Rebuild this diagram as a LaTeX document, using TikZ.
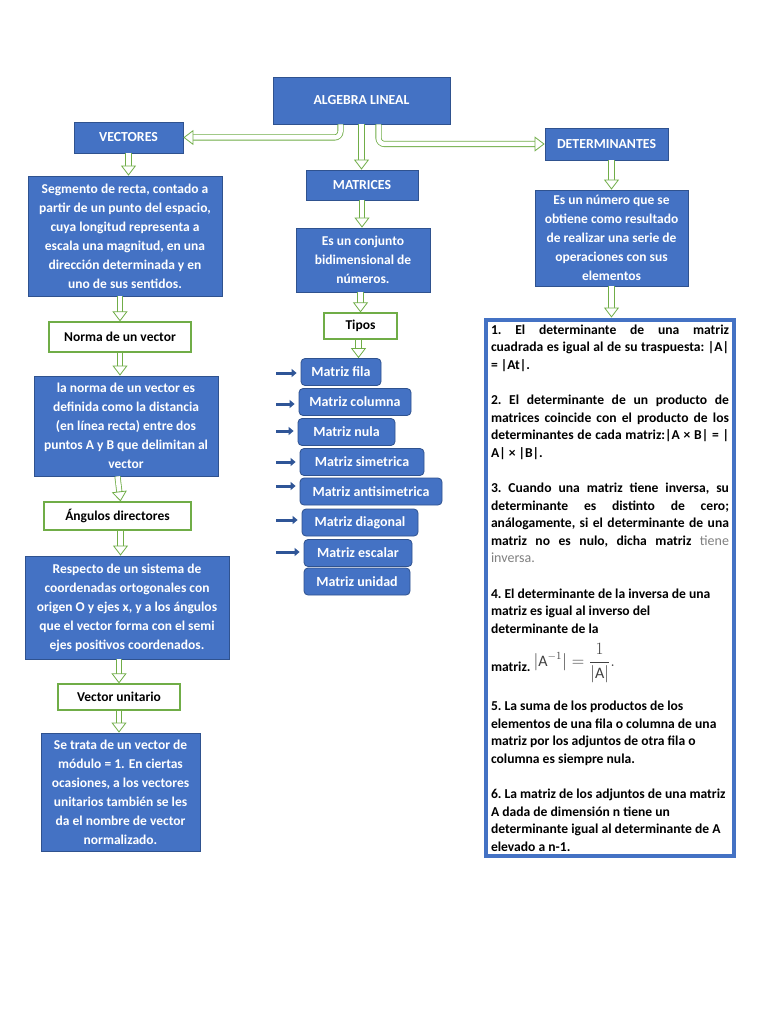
\documentclass[tikz,border=0pt]{standalone}
\usepackage{amsmath}
\usepackage{fontspec}
\setmainfont{Carlito}
\usepackage{xcolor}
\usetikzlibrary{arrows.meta,positioning}
\definecolor{boxblue}{HTML}{4472C4}
\definecolor{edgeblue}{HTML}{2F528F}
\definecolor{linkgreen}{HTML}{70AD47}
\definecolor{pointblue}{HTML}{2F5597}
\tikzset{
  bluebox/.style={draw=edgeblue, line width=0.8pt, fill=boxblue, text=white, align=center,
    inner sep=2pt, font=\fontsize{13.5}{19}\selectfont\bfseries},
  headbox/.style={bluebox, font=\fontsize{13.8}{15}\selectfont\bfseries},
  greenbox/.style={draw=linkgreen, line width=1.2pt, fill=white, inner sep=2pt,
    font=\fontsize{13.5}{15}\selectfont\bfseries},
  typebox/.style={bluebox, rounded corners=4pt, font=\fontsize{14}{16}\selectfont\bfseries},
  hollow/.style={draw=linkgreen, line width=0.8pt, double=white, double distance=4.5pt,
    -{Triangle[open, fill=white, length=10pt, width=15pt, line width=0.8pt]}},
  pointer/.style={draw=pointblue, line width=3pt, -{Triangle[length=5pt, width=8pt]}, shorten >=4pt}
}
\begin{document}
\begin{tikzpicture}[x=1pt, y=-1pt]
\useasboundingbox[fill=white] (0,0) rectangle (768,1024);
% top level
\node[headbox, minimum width=177pt, minimum height=47pt] (alg) at (361.5,100.5) {ALGEBRA LINEAL};
\node[headbox, minimum width=109pt, minimum height=31pt] (vec) at (128.5,137.5) {VECTORES};
\node[headbox, minimum width=112pt, minimum height=30pt] (mat) at (362,185) {MATRICES};
\node[headbox, minimum width=123pt, minimum height=32pt] (det) at (606.5,144) {DETERMINANTES};
% vectores column
\node[bluebox, minimum width=194pt, minimum height=120pt] (vecdef) at (125,236)
  {Segmento de recta, contado a\\ partir de un punto del espacio,\\ cuya longitud representa a\\
   escala una magnitud, en una\\ dirección determinada y en\\ uno de sus sentidos.};
\node[greenbox, minimum width=142pt, minimum height=30pt] (norma) at (120,337) {Norma de un vector};
\node[bluebox, minimum width=184pt, minimum height=100pt] (normadef) at (126,426)
  {la norma de un vector es\\ definida como la distancia\\ (en línea recta) entre dos\\
   puntos A y B que delimitan al\\ vector};
\node[greenbox, minimum width=147pt, minimum height=28pt] (ang) at (117.5,516) {Ángulos directores};
\node[bluebox, minimum width=204pt, minimum height=103pt] (angdef) at (127,607.5)
  {Respecto de un sistema de\\ coordenadas ortogonales con\\ origen O y ejes x, y a los ángulos\\
   que el vector forma con el semi\\ ejes positivos coordenados.};
\node[greenbox, minimum width=122pt, minimum height=26pt] (uni) at (119,697) {Vector unitario};
\node[bluebox, minimum width=159pt, minimum height=118pt] (unidef) at (120.5,792)
  {Se trata de un vector de\\ módulo = 1. En ciertas\\ ocasiones, a los vectores\\
   unitarios también se les\\ da el nombre de vector\\ normalizado.};
% matrices column
\node[bluebox, minimum width=134pt, minimum height=64pt] (matdef) at (363,260)
  {Es un conjunto\\ bidimensional de\\ números.};
\node[greenbox, minimum width=73pt, minimum height=26pt] (tipos) at (360.5,326) {Tipos};
\foreach \n/\lab/\x/\y/\w in {fila/Matriz fila/341/372/80, columna/Matriz columna/355/402/112,
    nula/Matriz nula/346.5/432/97, simetrica/Matriz simetrica/362/462/124,
    anti/Matriz antisimetrica/371/491.5/142, diagonal/Matriz diagonal/360/522.5/116,
    escalar/Matriz escalar/358/553/108, unidad/Matriz unidad/357/581.5/106} {
  \node[typebox, minimum width=\w pt, minimum height=27pt] (m-\n) at (\x,\y) {\lab};
}
\foreach \n/\y in {fila/373, columna/404, nula/431, simetrica/462, anti/486, diagonal/520, escalar/552} {
  \coordinate (p-\n) at (276,\y);
  \draw[pointer] (p-\n) -- (p-\n -| m-\n.west);
}
% determinantes column
\node[bluebox, minimum width=153pt, minimum height=96pt] (detdef) at (611.5,238)
  {Es un número que se\\ obtiene como resultado\\ de realizar una serie de\\
   operaciones con sus\\ elementos};
\node[draw=boxblue, line width=4pt, fill=white, text width=238pt, inner sep=5pt, align=justify,
      minimum height=536pt, font=\fontsize{13.6}{17.6}\selectfont\bfseries\frenchspacing] (props) at (610,588) {%
  1. El determinante de una matriz\linebreak cuadrada es igual al de su traspuesta: |A|\linebreak = |At|.\par
  \vspace{17.6pt}
  2. El determinante de un producto de\linebreak matrices coincide con el producto de los\linebreak
  determinantes de cada matriz:|A × B| = |\linebreak A| × |B|.\par
  \vspace{17.6pt}
  3. Cuando una matriz tiene inversa, su\linebreak determinante es distinto de cero;\linebreak
  análogamente, si el determinante de una\linebreak matriz no es nulo, dicha matriz
  {\color{gray}\mdseries\fontsize{14}{17.6}\selectfont tiene}\linebreak
  {\color{gray}\mdseries\fontsize{14}{17.6}\selectfont inversa.}\par
  \vspace{17.6pt}
  {\raggedright
  4. El determinante de la inversa de una\\ matriz es igual al inverso del\\ determinante de la\\[9pt]
  matriz. \raisebox{5pt}{\fontsize{16}{17}\selectfont\color{black!75}$\left|\mathrm{A}^{-1}\right| = \dfrac{1}{\left|\mathrm{A}\right|}.$}\par
  \vspace{17.6pt}
  5. La suma de los productos de los\\ elementos de una fila o columna de una\\
  matriz por los adjuntos de otra fila o\\ columna es siempre nula.\par
  \vspace{17.6pt}
  6. La matriz de los adjuntos de una matriz\\ A dada de dimensión n tiene un\\
  determinante igual al determinante de A\\ elevado a n-1.\par}
};
% connectors
\draw[hollow, rounded corners=6pt] ([xshift=-21pt]alg.south) |- (vec.east);
\draw[hollow, rounded corners=6pt] ([xshift=17pt]alg.south) |- (det.west);
\draw[hollow] (alg.south) -- (alg.south |- mat.north);
\draw[hollow] (vec.south) -- (vec.south |- vecdef.north);
\draw[hollow] (vecdef.south -| norma.north) -- (norma.north);
\draw[hollow] (norma.south) -- (norma.south |- normadef.north);
\draw[hollow] (normadef.south -| ang.north) -- ([xshift=3pt]ang.north);
\draw[hollow] ([xshift=3pt]ang.south) -- ([xshift=3pt]ang.south |- angdef.north);
\draw[hollow] (angdef.south -| uni.north) -- (uni.north);
\draw[hollow] (uni.south) -- (uni.south |- unidef.north);
\draw[hollow] (mat.south) -- (mat.south |- matdef.north);
\draw[hollow] (matdef.south -| tipos.north) -- (tipos.north);
\draw[hollow] ([xshift=-2pt]tipos.south) -- ([xshift=-2pt]tipos.south |- m-fila.north);
\draw[hollow] (det.south -| detdef.north) -- (detdef.north);
\draw[hollow] (detdef.south) -- (detdef.south |- props.north);
\end{tikzpicture}
\end{document}
